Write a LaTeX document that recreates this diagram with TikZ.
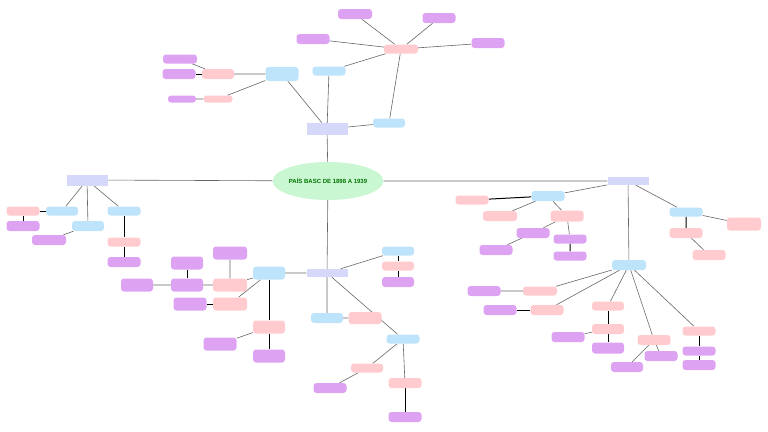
\documentclass[tikz,border=0pt]{standalone}
\usepackage{fontspec}
\setmainfont{Liberation Sans}
\usetikzlibrary{backgrounds,shapes.geometric}
\definecolor{cpur}{HTML}{DDA3F2}
\definecolor{cpink}{HTML}{FFCBCF}
\definecolor{cblue}{HTML}{BDE4FB}
\definecolor{clav}{HTML}{D6D8FA}
\definecolor{cgreen}{HTML}{C9F7D2}
\tikzset{
 bx/.style={rounded corners=3pt,inner sep=0pt},
 pur/.style={bx,fill=cpur},
 pnk/.style={bx,fill=cpink},
 blu/.style={bx,fill=cblue},
 lav/.style={inner sep=0pt,fill=clav},
 ln/.style={draw=gray!80!black,line width=0.6pt},
 tk/.style={draw=black,line width=1pt},
}
\newcommand{\nd}[6]{\node[#2,minimum width=#5pt,minimum height=#6pt] (#1) at (#3,#4) {};}
\begin{document}
\begin{tikzpicture}[x=1pt,y=-1pt]
\useasboundingbox (0,0) rectangle (768,431);
\node[ellipse,fill=cgreen,minimum width=92pt,minimum height=38pt,inner sep=0pt] (T) at (328,181) {\fontsize{6}{7}\selectfont\bfseries\color{green!45!black}PAÍS BASC DE 1898 A 1939};
% top
\nd{P1}{pur}{355}{14}{34}{10}
\nd{P2}{pur}{439}{18}{33}{10}
\nd{P3}{pur}{313}{39}{33}{10}
\nd{K1}{pnk}{401}{49}{34}{9}
\nd{P4}{pur}{488}{43}{33}{10}
\nd{P5}{pur}{180}{59}{34}{9}
\nd{P6}{pur}{179}{74}{33}{10}
\nd{K2}{pnk}{218}{74}{32}{10}
\nd{B1}{blu}{282}{74}{33}{14}
\nd{B2}{blu}{329}{71}{33}{9}
\nd{P7}{pur}{182}{99}{28}{7}
\nd{K3}{pnk}{218}{99}{29}{7}
\node[lav,minimum width=41pt,minimum height=12pt] (L1) at (327,129) {};
\nd{B3}{blu}{389}{123}{32}{9}
% left
\node[lav,minimum width=41pt,minimum height=11pt] (L2) at (87,180) {};
\nd{B4}{blu}{62}{211}{32}{9}
\nd{K4}{pnk}{23}{211}{33}{9}
\nd{P8}{pur}{23}{226}{33}{10}
\nd{B5}{blu}{88}{226}{32}{10}
\nd{P9}{pur}{49}{240}{34}{10}
\nd{B6}{blu}{124}{211}{33}{9}
\nd{K5}{pnk}{124}{242}{33}{9}
\nd{P10}{pur}{124}{262}{33}{10}
% mid-left
\nd{P11}{pur}{187}{263}{32}{13}
\nd{P12}{pur}{230}{253}{34}{13}
\nd{B7}{blu}{269}{273}{32}{13}
\nd{P13}{pur}{137}{285}{32}{13}
\nd{P14}{pur}{187}{285}{32}{13}
\nd{K6}{pnk}{230}{285}{34}{13}
\nd{P15}{pur}{190}{304}{33}{13}
\nd{K7}{pnk}{230}{304}{34}{13}
\nd{K8}{pnk}{269}{327}{32}{13}
\nd{P16}{pur}{220}{344}{33}{13}
\nd{P17}{pur}{269}{356}{32}{13}
% center bottom
\node[lav,minimum width=41pt,minimum height=8pt] (L3) at (327,273) {};
\nd{B8}{blu}{398}{251}{32}{9}
\nd{K9}{pnk}{398}{266}{32}{9}
\nd{P18}{pur}{398}{282}{32}{10}
\nd{B9}{blu}{327}{318}{32}{10}
\nd{K10}{pnk}{365}{318}{33}{12}
\nd{B10}{blu}{403}{339}{33}{9}
\nd{K11}{pnk}{367}{368}{32}{9}
\nd{P19}{pur}{330}{388}{33}{10}
\nd{K12}{pnk}{405}{383}{33}{10}
\nd{P20}{pur}{405}{417}{33}{10}
% right
\node[lav,minimum width=41pt,minimum height=8pt] (L4) at (628,181) {};
\nd{K13}{pnk}{472}{200}{33}{9}
\nd{B11}{blu}{548}{196}{33}{10}
\nd{K14}{pnk}{500}{216}{34}{10}
\nd{K15}{pnk}{567}{216}{33}{11}
\nd{P21}{pur}{533}{233}{33}{10}
\nd{P22}{pur}{496}{250}{33}{10}
\nd{P23}{pur}{570}{239}{33}{9}
\nd{P24}{pur}{570}{256}{33}{9}
\nd{B12}{blu}{686}{212}{33}{9}
\nd{K16}{pnk}{744}{224}{34}{13}
\nd{K17}{pnk}{686}{233}{33}{10}
\nd{K18}{pnk}{709}{255}{33}{10}
\nd{B13}{blu}{629}{265}{34}{10}
\nd{P25}{pur}{484}{291}{33}{10}
\nd{K19}{pnk}{540}{291}{34}{9}
\nd{P26}{pur}{500}{310}{33}{10}
\nd{K20}{pnk}{547}{310}{33}{10}
\nd{K21}{pnk}{608}{306}{32}{9}
\nd{K22}{pnk}{608}{329}{32}{10}
\nd{P27}{pur}{568}{337}{33}{10}
\nd{P28}{pur}{608}{348}{32}{11}
\nd{K23}{pnk}{654}{340}{33}{10}
\nd{K24}{pnk}{699}{331}{33}{9}
\nd{P29}{pur}{661}{356}{33}{10}
\nd{P30}{pur}{627}{367}{32}{10}
\nd{P31}{pur}{699}{351}{33}{9}
\nd{P32}{pur}{699}{365}{33}{10}
\begin{scope}[on background layer]
\draw[ln] (T)--(L1) (T)--(L2) (T)--(L4) (T)--(L3);
\draw[ln] (L1)--(B1) (L1)--(B2) (L1)--(B3) (B1)--(K2) (B1)--(K3) (K2)--(P5) (K3)--(P7) (B2)--(K1) (B3)--(K1);
\draw[tk] (K2)--(P6);
\draw[ln] (K1)--(P1) (K1)--(P2) (K1)--(P3) (K1)--(P4);
\draw[ln] (L2)--(B4) (L2)--(B5) (L2)--(B6) (B5)--(P9);
\draw[tk] (B4)--(K4) (K4)--(P8) (B6)--(K5) (K5)--(P10);
\draw[ln] (L3)--(B7) (L3)--(B8) (L3)--(B9) (L3)--(B10) (B7)--(K6) (B7)--(K7) (K6)--(P12) (K6)--(P14) (P14)--(P13) (K8)--(P16) (B9)--(K10) (B10)--(K11) (B10)--(K12) (K11)--(P19);
\draw[tk] (B7)--(K8) (K8)--(P17) (P14)--(P11) (K7)--(P15) (B8)--(K9) (K9)--(P18) (K12)--(P20);
\draw[ln] (L4)--(B11) (L4)--(B12) (L4)--(B13) (B11)--(K14) (B11)--(K15) (K15)--(P21) (K15)--(P23) (P21)--(P22) (B12)--(K16) (K17)--(K18);
\draw[tk] (B11)--(K13) (P23)--(P24) (B12)--(K17);
\draw[ln] (B13)--(K19) (B13)--(K20) (B13)--(K21) (B13)--(K23) (B13)--(K24) (K19)--(P25) (K22)--(P27) (K23)--(P29) (K23)--(P30);
\draw[tk] (K20)--(P26) (K21)--(K22) (K22)--(P28) (K24)--(P31) (P31)--(P32);
\end{scope}
\end{tikzpicture}
\end{document}
